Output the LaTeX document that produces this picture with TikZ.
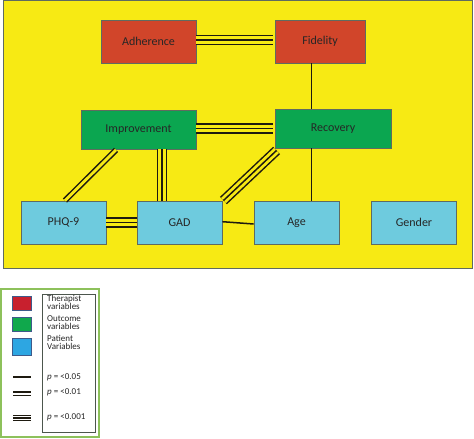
\documentclass[tikz,border=0pt]{standalone}
\usepackage{fontspec}
\setmainfont{Carlito}
\usetikzlibrary{calc}
\definecolor{bgyellow}{HTML}{F7EA14}
\definecolor{tred}{HTML}{D1452A}
\definecolor{ogreen}{HTML}{0BA650}
\definecolor{pblue}{HTML}{6ECBDE}
\definecolor{bordgray}{HTML}{5F6B60}
\definecolor{leggreen}{HTML}{8DC15B}
\definecolor{linek}{HTML}{1E1A10}
\definecolor{lred}{HTML}{C8202E}
\definecolor{lgreen}{HTML}{10A84C}
\definecolor{lblue}{HTML}{2DA6E2}
\definecolor{lbord}{HTML}{3E5A8A}
\begin{document}
\begin{tikzpicture}[x=1pt,y=-1pt,
  box/.style={draw=bordgray, line width=0.9, inner sep=0pt, minimum height=43pt,
    font=\fontsize{12}{14}\selectfont, text=black!85},
  conn/.style={line width=1.5pt, linek},
  dbl/.style={line width=1.5pt, linek, double=bgyellow, double distance=2.8pt},
  tri/.style={line width=1.5pt, linek, double=bgyellow, double distance=7.1pt},
  legtext/.style={anchor=north west, align=left, inner sep=0pt, text=black!85,
    font=\fontsize{9}{8.5}\selectfont},
  legsq/.style={minimum width=19pt, minimum height=14pt, inner sep=0pt, line width=0.9pt, draw=lbord}]
\useasboundingbox (0,0) rectangle (474,439);
\fill[white] (0,0) rectangle (474,439);
\draw[bordgray, fill=bgyellow, line width=1pt] (3,0.5) rectangle (472.5,268);

% nodes
\node[box, fill=tred, minimum width=95pt] (adh) at (148.5,41.5) {Adherence};
\node[box, fill=tred, minimum width=90pt] (fid) at (320,41.5) {Fidelity};
\node[box, fill=ogreen, minimum width=115pt, minimum height=39pt] (imp) at (138.5,129.5) {Improvement};
\node[box, fill=ogreen, minimum width=116pt, minimum height=39pt] (rec) at (333,128.5) {Recovery};
\node[box, fill=pblue, minimum width=85pt] (phq) at (63.5,222.5) {PHQ-9};
\node[box, fill=pblue, minimum width=85pt] (gad) at (179.5,222.5) {GAD};
\node[box, fill=pblue, minimum width=85pt] (age) at (296.5,222.5) {Age};
\node[box, fill=pblue, minimum width=85pt] (gen) at (414,222.5) {Gender};

% connectors
\draw[tri] ($(adh.east)+(0,-1.5)$) -- ($(fid.west)+(-2,-1.5)$);
\draw[conn] ($(adh.east)+(0,-1.5)$) -- ($(fid.west)+(-2,-1.5)$);
\draw[conn] ($(fid.south)+(-8.3,0)$) -- ($(rec.north)+(-21.3,0)$);
\draw[tri] ($(imp.east)+(0,-1)$) -- ($(rec.west)+(-2,0)$);
\draw[conn] ($(imp.east)+(0,-1)$) -- ($(rec.west)+(-2,0)$);
\draw[dbl] ($(imp.south)+(-22.5,0.5)$) -- ($(phq.north)+(1.5,0)$);
\draw[tri] ($(imp.south)+(23.5,0)$) -- ($(gad.north)+(-17.5,0)$);
\draw[conn] ($(imp.south)+(23.5,0)$) -- ($(gad.north)+(-17.5,0)$);
\draw[tri] ($(rec.south west)+(2,2)$) -- ($(gad.north east)+(1,0)$);
\draw[conn] ($(rec.south west)+(2,2)$) -- ($(gad.north east)+(1,0)$);
\draw[conn] ($(rec.south)+(-21.3,0)$) -- ($(age.north)+(15.2,0)$);
\draw[tri] (phq.east) -- (gad.west);
\draw[conn] (phq.east) -- (gad.west);
\draw[conn] ($(gad.east)+(0,-0.8)$) -- ($(age.west)+(0,1.5)$);

% legend
\draw[leggreen, line width=1.3pt, fill=white] (1,289) rectangle (99,437);
\draw[bordgray!80!black, line width=0.8pt] (42,294) rectangle (95,432);
\node[legsq, fill=lred] (lr) at (21.5,303.5) {};
\node[legsq, fill=lgreen] (lg) at (21.5,324.5) {};
\node[legsq, fill=lblue, minimum height=17pt] (lb) at (21.5,346.5) {};
\node[legtext] (lt1) at (47,295) {Therapist\\variables};
\node[legtext] (lt2) at (47,315) {Outcome\\variables};
\node[legtext] (lt3) at (47,335) {Patient\\Variables};
\coordinate (s1a) at (13,377); \coordinate (s1b) at (31,377);
\coordinate (s2a) at (13,393.5); \coordinate (s2b) at (31,393.5);
\coordinate (s3a) at (13,418); \coordinate (s3b) at (31,418);
\draw[line width=1.4pt, linek] (s1a) -- (s1b);
\draw[line width=1.3pt, linek, double=white, double distance=2pt] (s2a) -- (s2b);
\draw[line width=1.2pt, linek, double=white, double distance=3.6pt] (s3a) -- (s3b);
\draw[line width=1.2pt, linek] (s3a) -- (s3b);
\node[legtext, anchor=west] (lp1) at (47,377) {\textit{p} = <0.05};
\node[legtext, anchor=west] (lp2) at (47,392.5) {\textit{p} = <0.01};
\node[legtext, anchor=west] (lp3) at (47,417) {\textit{p} = <0.001};
\end{tikzpicture}
\end{document}
